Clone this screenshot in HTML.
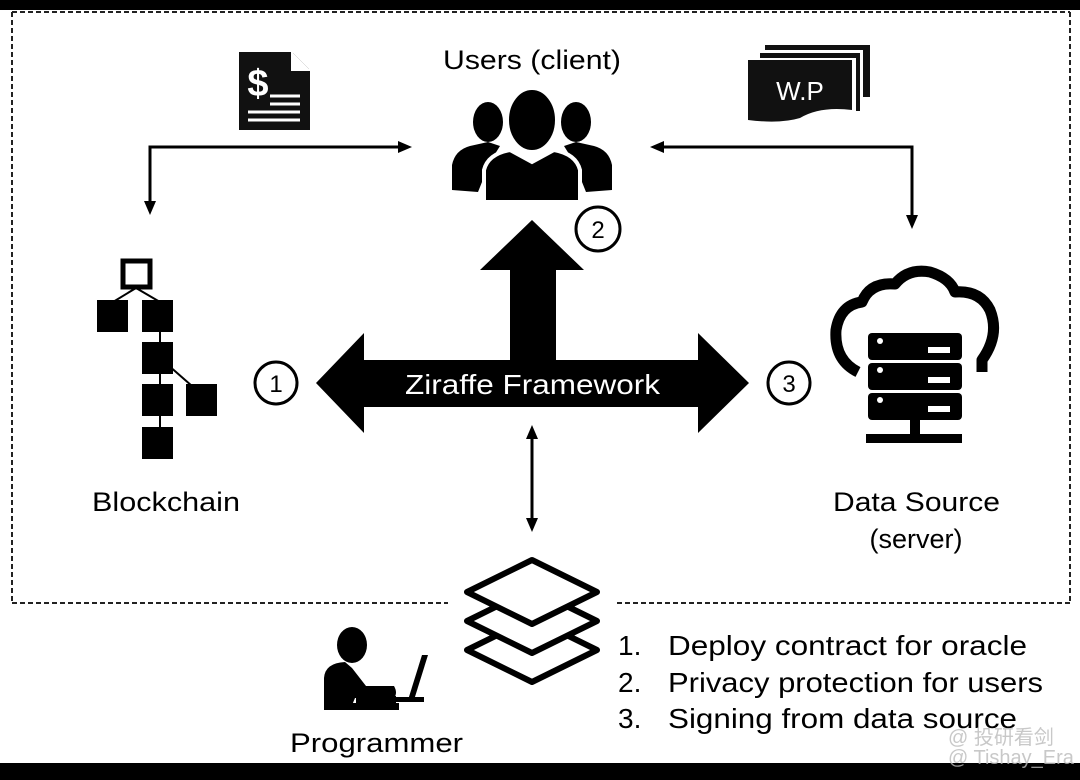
<!DOCTYPE html>
<html><head><meta charset="utf-8"><style>
html,body{margin:0;padding:0;background:#fff}
svg{display:block}
text{font-family:"Liberation Sans","Noto Sans CJK SC",sans-serif}
</style></head><body>
<svg width="1080" height="780" viewBox="0 0 1080 780" xmlns="http://www.w3.org/2000/svg">
<rect x="0" y="0" width="1080" height="10" fill="#000"/>
<rect x="0" y="763" width="1080" height="17" fill="#000"/>
<g stroke="#222" stroke-width="2" stroke-dasharray="5,3" fill="none">
<line x1="12" y1="12" x2="12" y2="603"/>
<line x1="1070" y1="12" x2="1070" y2="603"/>
<line x1="12" y1="12" x2="1070" y2="12"/>
<line x1="12" y1="603" x2="448" y2="603"/>
<line x1="617" y1="603" x2="1070" y2="603"/>
</g>
<text x="443" y="69" font-size="27" textLength="178" lengthAdjust="spacingAndGlyphs">Users (client)</text>
<!-- users icon -->
<g fill="#000">
<ellipse cx="488" cy="122" rx="15" ry="20"/><path d="M452 190 L452 165 Q455 150 470 146 L488 142 L500 146 L490 162 L478 192 Z"/>
<ellipse cx="576" cy="122" rx="15" ry="20"/><path d="M612 190 L612 165 Q609 150 594 146 L576 142 L564 146 L574 162 L586 192 Z"/>
<ellipse cx="532" cy="120" rx="25" ry="32" stroke="#fff" stroke-width="4"/>
<path d="M484 202 L484 170 Q488 154 510 150 L532 162 L554 150 Q576 154 580 170 L580 202 Z" stroke="#fff" stroke-width="4"/>
</g>
<!-- invoice -->
<path d="M239 52 L292 52 L310 70 L310 130 L239 130 Z" fill="#111"/>
<path d="M292 52 L292 70 L310 70" fill="#fff" stroke="#fff" stroke-width="2"/>
<text x="258" y="96" font-size="38" font-weight="bold" fill="#fff" text-anchor="middle">$</text>
<g stroke="#fff" stroke-width="3"><line x1="270" y1="96" x2="300" y2="96"/><line x1="270" y1="104" x2="300" y2="104"/><line x1="248" y1="112" x2="300" y2="112"/><line x1="248" y1="120" x2="300" y2="120"/></g>
<!-- W.P -->
<rect x="765" y="45" width="105" height="52" fill="#111"/>
<rect x="763" y="50" width="100" height="55" fill="#fff"/>
<rect x="760" y="53" width="100" height="58" fill="#111"/>
<rect x="756" y="58" width="100" height="60" fill="#fff"/>
<path d="M748 60 L852 60 L852 110 Q820 106 800 118 Q780 124 748 120 Z" fill="#111"/>
<text x="800" y="100" font-size="26" fill="#fff" text-anchor="middle">W.P</text>
<!-- connectors -->
<g stroke="#000" stroke-width="3" fill="none">
<polyline points="150,205 150,147 402,147"/>
<polyline points="912,220 912,147 660,147"/>
<line x1="532" y1="436" x2="532" y2="522"/>
</g>
<g fill="#000">
<polygon points="412,147 398,141 398,153"/>
<polygon points="150,215 144,201 156,201"/>
<polygon points="650,147 664,141 664,153"/>
<polygon points="912,229 906,215 918,215"/>
<polygon points="532,425 526,439 538,439"/>
<polygon points="532,532 526,518 538,518"/>
</g>
<!-- big arrow -->
<polygon fill="#000" points="316,383 364,333 364,360 510,360 510,270 480,270 532,220 584,270 556,270 556,360 698,360 698,333 749,383 698,433 698,407 364,407 364,433"/>
<text x="405" y="394" font-size="28" fill="#fff" textLength="255" lengthAdjust="spacingAndGlyphs">Ziraffe Framework</text>
<!-- circles -->
<g fill="#fff" stroke="#000" stroke-width="3">
<circle cx="598" cy="229" r="22"/><circle cx="276" cy="383" r="21"/><circle cx="789" cy="383" r="21"/>
</g>
<g font-size="24" text-anchor="middle"><text x="598" y="238">2</text><text x="276" y="392">1</text><text x="789" y="392">3</text></g>
<!-- blockchain -->
<rect x="123" y="261" width="27" height="26" fill="none" stroke="#000" stroke-width="5"/>
<g stroke="#000" stroke-width="2"><line x1="136" y1="288" x2="113" y2="302"/><line x1="136" y1="288" x2="160" y2="302"/><line x1="160" y1="332" x2="160" y2="440"/><line x1="160" y1="358" x2="208" y2="400"/></g>
<g fill="#000">
<rect x="97" y="300" width="31" height="32"/><rect x="142" y="300" width="31" height="32"/>
<rect x="142" y="342" width="31" height="32"/><rect x="142" y="384" width="31" height="32"/>
<rect x="186" y="384" width="31" height="32"/><rect x="142" y="427" width="31" height="32"/>
</g>
<text x="92" y="511" font-size="27" textLength="148" lengthAdjust="spacingAndGlyphs">Blockchain</text>
<!-- data source -->
<path d="M858 372 Q834 360 836 330 Q840 305 862 302 Q870 282 895 284 Q908 268 930 272 Q950 278 955 292 Q980 290 990 310 Q1000 335 982 360 L982 372" fill="none" stroke="#000" stroke-width="11" stroke-linejoin="round"/>
<rect x="872" y="326" width="86" height="98" fill="#fff"/>
<g fill="#000"><rect x="868" y="333" width="94" height="27" rx="4"/><rect x="868" y="363" width="94" height="27" rx="4"/><rect x="868" y="393" width="94" height="27" rx="4"/>
<rect x="910" y="420" width="10" height="16"/><rect x="866" y="434" width="96" height="9"/></g>
<g fill="#fff"><circle cx="880" cy="341" r="3"/><circle cx="880" cy="370" r="3"/><circle cx="880" cy="400" r="3"/>
<rect x="928" y="347" width="22" height="6"/><rect x="928" y="377" width="22" height="6"/><rect x="928" y="406" width="22" height="6"/></g>
<text x="833" y="511" font-size="27" textLength="167" lengthAdjust="spacingAndGlyphs">Data Source</text>
<text x="916" y="548" font-size="27" text-anchor="middle">(server)</text>
<!-- layers -->
<g fill="#fff" stroke="#000" stroke-width="6" stroke-linejoin="round">
<polygon points="532,618 597,650 532,682 467,650"/>
<polygon points="532,589 597,621 532,653 467,621"/>
<polygon points="532,560 597,592 532,624 467,592"/>
</g>
<!-- programmer -->
<g fill="#000">
<ellipse cx="352" cy="645" rx="15" ry="18"/>
<path d="M324 710 L324 678 Q325 663 345 662 L352 668 L366 686 L394 686 Q398 693 394 698 L355 698 L350 710 Z"/>
<rect x="356" y="696" width="40" height="7"/><rect x="333" y="703" width="66" height="7"/>
<polygon points="422,655 428,655 414,700 408,700"/>
<rect x="392" y="697" width="32" height="5"/>
</g>
<text x="290" y="752" font-size="27" textLength="173" lengthAdjust="spacingAndGlyphs">Programmer</text>
<!-- list -->
<g font-size="28">
<text x="618" y="655">1.</text><text x="668" y="655" textLength="359" lengthAdjust="spacingAndGlyphs">Deploy contract for oracle</text>
<text x="618" y="692">2.</text><text x="668" y="692" textLength="375" lengthAdjust="spacingAndGlyphs">Privacy protection for users</text>
<text x="618" y="728">3.</text><text x="668" y="728" textLength="349" lengthAdjust="spacingAndGlyphs">Signing from data source</text>
</g>
<g fill="#bbb" font-size="20" opacity="0.8"><text x="948" y="744">@ 投研看剑</text><text x="948" y="764">@ Tishay_Era</text></g>
</svg>
</body></html>
